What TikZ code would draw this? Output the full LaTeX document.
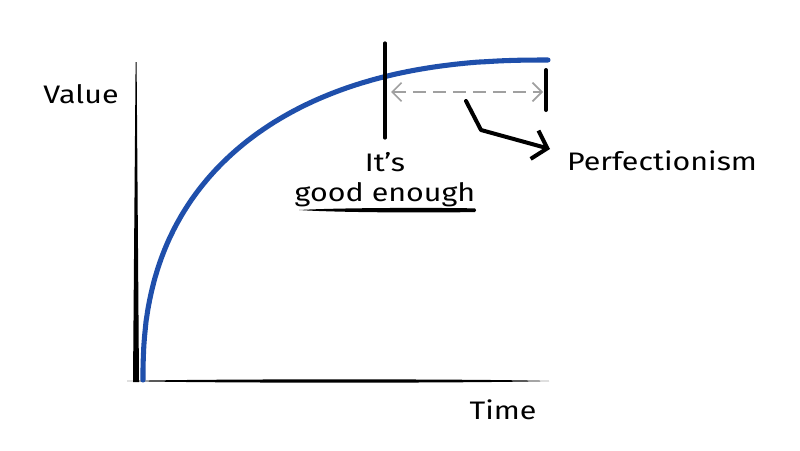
\documentclass[tikz,border=0pt]{standalone}
\usepackage{fontspec}
\setmainfont[FakeStretch=1.2]{Fira Sans}
\usetikzlibrary{arrows.meta}
\definecolor{curveblue}{HTML}{1F4FAB}
\definecolor{dashgray}{HTML}{A0A0A0}
\tikzset{
  lbl/.style={font=\fontsize{19}{22}\selectfont, text=black, inner sep=0pt, anchor=base},
  tick/.style={draw=black, line width=2.4pt, line cap=round},
  curveline/.style={draw=curveblue, line width=3.8pt, line cap=round, line join=round},
  dashline/.style={draw=dashgray, line width=1.2pt, dash pattern=on 9.5pt off 5.5pt,
    {Straight Barb[length=7pt,width=14pt,line width=1.2pt]}-{Straight Barb[length=7pt,width=14pt,line width=1.2pt]}},
  bentarrow/.style={draw=black, line width=3pt, line join=round, line cap=round,
    -{Straight Barb[length=10pt,width=22pt,line width=3pt]}},
}
\begin{document}
\begin{tikzpicture}[x=0.75pt,y=-0.75pt]
\useasboundingbox (0,0) rectangle (800,450);
% axes (tapered strokes)
\fill[black] (135.6,62) -- (136.6,62) -- (139,382) -- (133,382) -- cycle;
\fill[black] (127,381) .. controls (200,378.8) and (480,378.8) .. (549,381)
  .. controls (480,383.2) and (200,383.2) .. cycle;
% curve (superellipse arc)
\coordinate (c0) at (143,380);
\coordinate (c1) at (548,60);
\draw[curveline] (c0) -- plot[domain=1:89.5, samples=120, smooth, variable=\t]
  ({548-405*pow(cos(\t),0.851)}, {380-320*pow(sin(\t),0.851)}) -- (c1);
% ticks
\coordinate (t1a) at (385,43);
\coordinate (t1b) at (385,138);
\coordinate (t2a) at (546,70);
\coordinate (t2b) at (546,110);
\draw[tick] (t1a) -- (t1b);
\draw[tick, line width=3pt] (t2a) -- (t2b);
% dashed double arrow
\coordinate (da) at (391,92);
\coordinate (db) at (543,92);
\draw[dashline] (da) -- (db);
% bent arrow
\coordinate (ba) at (466,101);
\coordinate (bb) at (481,130);
\coordinate (bc) at (550,149);
\draw[bentarrow] (ba) -- (bb) -- (bc);
% labels
\node[lbl] (value) at (81,103) {Value};
\node[lbl] (its) at (385,171) {It’s};
\node[lbl] (good) at (385,201) {good enough};
\node[lbl] (perf) at (662,170) {Perfectionism};
\node[lbl] (time) at (503,419) {Time};
% underline
\fill[black] (299,210) .. controls (340,207.6) and (440,207.6) .. (475,208.4)
  .. controls (476.5,209.5) and (476.5,211) .. (475,212)
  .. controls (440,212.8) and (340,212.8) .. cycle;
\end{tikzpicture}
\end{document}
